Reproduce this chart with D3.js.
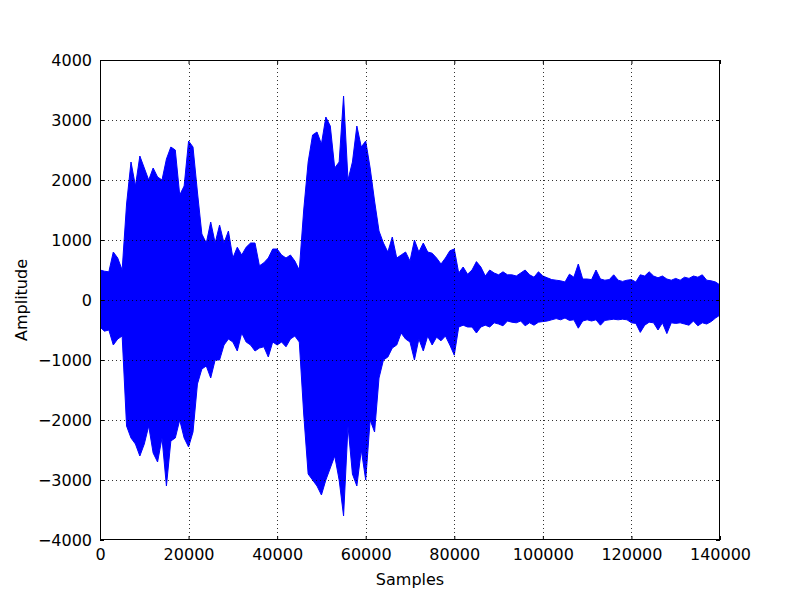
<!DOCTYPE html>
<html><head><meta charset="utf-8">
<script src="https://cdn.jsdelivr.net/npm/d3@7"></script>
<style>body{margin:0;background:#fff}svg{display:block}</style>
</head><body><svg id="c" width="800" height="600"></svg>
<script>
// sample position of each envelope bin (every 1000 samples)
const samples = d3.range(0, 141).map(k => k * 1000);
// upper envelope (max amplitude in each bin)
const upper = [500,480,470,800,700,500,1600,2300,1900,2400,
 2200,2000,2200,2050,2000,2350,2550,2500,1750,1900,
 2650,2550,1800,1100,950,1300,950,1250,950,1150,
 700,880,750,880,950,950,570,620,700,850,
 850,750,700,750,650,500,1500,2300,2750,2800,
 2600,3050,2900,2200,2300,3400,2000,2300,2900,2550,
 2650,2200,1650,1150,950,800,1050,700,750,800,
 650,1000,800,950,800,780,700,600,700,820,
 850,450,550,430,500,640,550,400,500,450,
 420,470,420,420,400,450,500,420,380,470,
 400,370,340,330,320,300,430,380,600,350,
 350,340,500,350,330,340,420,330,310,330,
 340,300,420,400,470,400,370,400,350,330,
 360,330,380,360,400,380,420,330,320,300,250];
// lower envelope (min amplitude in each bin)
const lower = [-450,-520,-500,-750,-650,-600,-2100,-2300,-2400,-2600,
 -2400,-2100,-2550,-2700,-2300,-3100,-2350,-2300,-2000,-2300,
 -2450,-2200,-1400,-1150,-1100,-1300,-1000,-1000,-750,-650,
 -700,-850,-550,-700,-750,-850,-800,-780,-950,-700,
 -750,-700,-780,-650,-600,-700,-1900,-2900,-3000,-3100,
 -3250,-3000,-2800,-2600,-3000,-3600,-2100,-2900,-3100,-2500,
 -3000,-2000,-2200,-1300,-1000,-950,-800,-750,-550,-650,
 -700,-1000,-650,-850,-600,-750,-620,-680,-600,-750,
 -920,-450,-420,-450,-450,-550,-450,-420,-450,-380,
 -400,-430,-350,-370,-380,-350,-430,-380,-420,-370,
 -360,-350,-330,-310,-330,-300,-340,-330,-470,-350,
 -330,-350,-330,-420,-340,-330,-320,-330,-320,-330,
 -380,-390,-540,-420,-370,-380,-500,-380,-560,-380,
 -390,-380,-400,-420,-350,-430,-380,-400,-360,-300,-250];
const xTicks = [0,20000,40000,60000,80000,100000,120000,140000];
const yTicks = [-4000,-3000,-2000,-1000,0,1000,2000,3000,4000];

const svg = d3.select("#c");
const L = 100, R = 720, T = 60, B = 540;
const x = d3.scaleLinear().domain([0,140000]).range([L,R]);
const y = d3.scaleLinear().domain([-4000,4000]).range([B,T]);
const font = "DejaVu Sans, sans-serif";
const fs = 16;

const data = samples.map((s,i)=>({s, hi:upper[i], lo:lower[i]}));
const area = d3.area().x(d=>x(d.s)).y0(d=>y(d.lo)).y1(d=>y(d.hi));
svg.append("clipPath").attr("id","pc").append("rect")
  .attr("x",L).attr("y",T).attr("width",R-L).attr("height",B-T);
svg.append("path").datum(data).attr("d",area)
  .attr("fill","#0000ff").attr("stroke","#0000ff").attr("stroke-width",1)
  .attr("clip-path","url(#pc)");

// grid (dotted, on top)
const g = svg.append("g");
g.selectAll(".gx").data(xTicks.slice(1,-1)).join("line")
  .attr("x1",d=>Math.round(x(d))+0.5).attr("x2",d=>Math.round(x(d))+0.5)
  .attr("y1",T).attr("y2",B)
  .attr("stroke","#000").attr("stroke-width",1).attr("stroke-dasharray","1,3").attr("opacity",0.8);
g.selectAll(".gy").data(yTicks.slice(1,-1)).join("line")
  .attr("y1",d=>Math.round(y(d))+0.5).attr("y2",d=>Math.round(y(d))+0.5)
  .attr("x1",L).attr("x2",R)
  .attr("stroke","#000").attr("stroke-width",1).attr("stroke-dasharray","1,3").attr("opacity",0.8);

// axes with inward ticks on all sides
const fmt = d3.format("d");
const ax = svg.append("g").attr("transform",`translate(0,${B})`)
  .call(d3.axisBottom(x).tickValues(xTicks).tickSizeInner(-4).tickSizeOuter(0).tickPadding(9).tickFormat(fmt));
const axT = svg.append("g").attr("transform",`translate(0,${T})`)
  .call(d3.axisTop(x).tickValues(xTicks).tickSizeInner(-4).tickSizeOuter(0).tickFormat(""));
const ay = svg.append("g").attr("transform",`translate(${L},0)`)
  .call(d3.axisLeft(y).tickValues(yTicks).tickSizeInner(-4).tickSizeOuter(0).tickPadding(8).tickFormat(fmt));
const ayR = svg.append("g").attr("transform",`translate(${R},0)`)
  .call(d3.axisRight(y).tickValues(yTicks).tickSizeInner(-4).tickSizeOuter(0).tickFormat(""));
[ax,axT,ay,ayR].forEach(a=>{
  a.select(".domain").remove();
  a.selectAll("line").attr("stroke","#000");
  a.selectAll("text").attr("font-family",font).attr("font-size",fs).attr("fill","#000");
});
svg.append("rect").attr("x",L+0.5).attr("y",T+0.5).attr("width",R-L-1).attr("height",B-T-1)
  .attr("fill","none").attr("stroke","#000").attr("stroke-width",1);

svg.append("text").attr("x",(L+R)/2).attr("y",585).attr("text-anchor","middle")
  .attr("font-family",font).attr("font-size",fs).text("Samples");
svg.append("text").attr("transform",`translate(27,${(T+B)/2}) rotate(-90)`).attr("text-anchor","middle")
  .attr("font-family",font).attr("font-size",fs).text("Amplitude");
</script></body></html>
